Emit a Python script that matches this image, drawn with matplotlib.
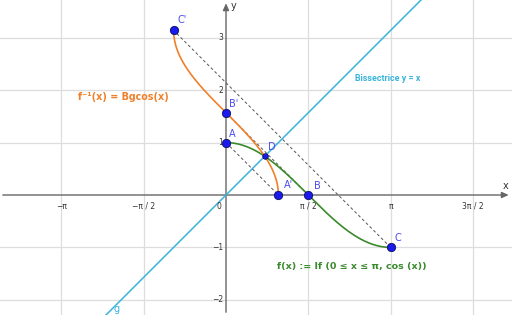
import numpy as np
import matplotlib
matplotlib.use("Agg")
import matplotlib.pyplot as plt

# ---- data ----
point_names = ["A", "B", "C", "A'", "B'", "C'", "D"]
point_x = [0.0, np.pi / 2, np.pi, 1.0, 0.0, -1.0, 0.739]
point_y = [1.0, 0.0, -1.0, 0.0, np.pi / 2, np.pi, 0.739]
dash_pairs = [("A", "A'"), ("B", "B'"), ("C", "C'")]
xtick_vals = [-np.pi, -np.pi / 2, np.pi / 2, np.pi, 3 * np.pi / 2]
xtick_labels = ["\u2212\u03c0", "\u2212\u03c0 / 2", "\u03c0 / 2", "\u03c0", "3\u03c0 / 2"]
ytick_vals = [-2, -1, 1, 2, 3]
ytick_labels = ["\u22122", "\u22121", "1", "2", "3"]

GREEN = "#3a8a2c"
ORANGE = "#f0802a"
LBLUE = "#3ab4dc"
PBLUE = "#1a1aee"
LBLCOL = "#4b4bf0"

fig = plt.figure(figsize=(5.12, 3.15), dpi=100)
ax = fig.add_axes([0, 0, 1, 1])
xmin, xmax = -226 / 52.4, (512 - 226) / 52.4
ymin, ymax = -(315 - 195) / 52.4, 195 / 52.4
ax.set_xlim(xmin, xmax)
ax.set_ylim(ymin, ymax)
ax.axis("off")

# grid
for v in xtick_vals:
    ax.axvline(v, color="#dddddd", lw=0.9, zorder=0)
for v in ytick_vals:
    ax.axhline(v, color="#dddddd", lw=0.9, zorder=0)

# axes with arrows
ax.annotate("", xy=(xmax - 0.01, 0), xytext=(xmin, 0),
            arrowprops=dict(arrowstyle="-|>,head_length=0.4,head_width=0.18", color="#666666", lw=1.0), zorder=1)
ax.annotate("", xy=(0, ymax - 0.01), xytext=(0, ymin),
            arrowprops=dict(arrowstyle="-|>,head_length=0.4,head_width=0.18", color="#666666", lw=1.0), zorder=1)
ax.text(xmax - 0.13, 0.08, "x", fontsize=7, color="#333333", ha="center", va="bottom")
ax.text(0.09, ymax - 0.12, "y", fontsize=7, color="#333333", ha="left", va="center")

for v, l in zip(xtick_vals, xtick_labels):
    ax.text(v, -0.13, l, fontsize=5.5, color="#333333", ha="center", va="top")
ax.text(-0.09, -0.13, "0", fontsize=5.5, color="#333333", ha="right", va="top")
for v, l in zip(ytick_vals, ytick_labels):
    ax.text(-0.06, v, l, fontsize=5.5, color="#333333", ha="right", va="center")

# bisector
bx = np.array([xmin, xmax])
ax.plot(bx, bx, color=LBLUE, lw=1.1, zorder=2)
ax.text(-2.15, -2.17, "g", fontsize=7, color=LBLUE, ha="left", va="center")

# curves
xc = np.linspace(0, np.pi, 300)
ax.plot(xc, np.cos(xc), color=GREEN, lw=1.2, zorder=3)
xa = np.linspace(-1, 1, 300)
ax.plot(xa, np.arccos(xa), color=ORANGE, lw=1.2, zorder=3)

# dashed segments
pts = dict(zip(point_names, zip(point_x, point_y)))
for p, q in dash_pairs:
    ax.plot([pts[p][0], pts[q][0]], [pts[p][1], pts[q][1]], color="#555555",
            lw=0.7, ls=(0, (3, 2.5)), zorder=2)

# points
offsets = {"A": (0.05, 0.17), "B": (0.1, 0.17), "C": (0.08, 0.17), "A'": (0.1, 0.2),
           "B'": (0.05, 0.17), "C'": (0.08, 0.2), "D": (0.06, 0.18)}
for n, x, y in zip(point_names, point_x, point_y):
    ms = 4.0 if n == "D" else 6.0
    ax.plot(x, y, "o", color=PBLUE, ms=ms, mec="#101060", mew=0.6, zorder=5)
    dx, dy = offsets[n]
    ax.text(x + dx, y + dy, n, fontsize=7, color=LBLCOL, ha="left", va="center", zorder=6)

# labels
ax.text(-2.82, 1.87, "f\u207b\u00b9(x) = Bgcos(x)", fontsize=6.9, fontweight="bold",
        color=ORANGE, ha="left", va="center")
ax.text(2.46, 2.23, "Bissectrice y = x", fontsize=6.4, fontweight="bold",
        family=["Roboto", "DejaVu Sans"], color=LBLUE, ha="left", va="center")
ax.text(0.98, -1.37, "f(x) := If (0 \u2264 x \u2264 \u03c0, cos (x))", fontsize=6.8, fontweight="bold",
        color=GREEN, ha="left", va="center")

fig.savefig("out.png", dpi=100)
